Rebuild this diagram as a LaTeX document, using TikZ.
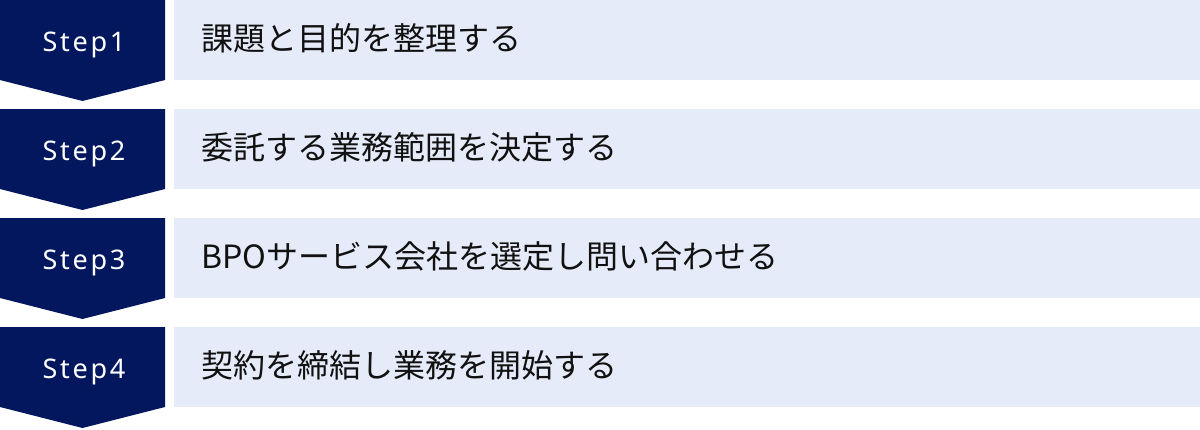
\documentclass[tikz,border=0pt]{standalone}
\usepackage{fontspec}
\newfontfamily\jpfont{Noto Sans CJK JP}
\newfontfamily\stepfont[LetterSpace=10]{Noto Sans}
\definecolor{navy}{HTML}{03175F}
\definecolor{paleblue}{HTML}{E5EBF8}
\definecolor{ink}{HTML}{111111}
\tikzset{
  stepshape/.style={fill=navy, draw=none},
  stepbar/.style={fill=paleblue, draw=none},
  steplabel/.style={text=white, font=\stepfont\fontsize{27}{30}\selectfont, inner sep=0pt, anchor=base},
  tasklabel/.style={text=ink, font=\jpfont\fontsize{32}{36}\selectfont, inner sep=0pt, anchor=base west}
}
\begin{document}
\begin{tikzpicture}[x=1pt,y=-1pt]
\useasboundingbox (0,0) rectangle (1200,429);
\foreach \i/\lab/\txt in {0/Step1/課題と目的を整理する,1/Step2/委託する業務範囲を決定する,2/Step3/BPOサービス会社を選定し問い合わせる,3/Step4/契約を締結し業務を開始する}{
  \pgfmathsetmacro{\yy}{109*\i}
  \fill[stepshape] (0,\yy) -- (165,\yy) -- (165,\yy+80) -- (82.5,\yy+101) -- (0,\yy+80) -- cycle;
  \fill[stepbar] (174,\yy) rectangle (1200,\yy+80);
  \node[steplabel] (step\i) at (84,\yy+51.5) {\lab};
  \node[tasklabel] (task\i) at (201,\yy+50) {\txt};
}
\end{tikzpicture}
\end{document}
